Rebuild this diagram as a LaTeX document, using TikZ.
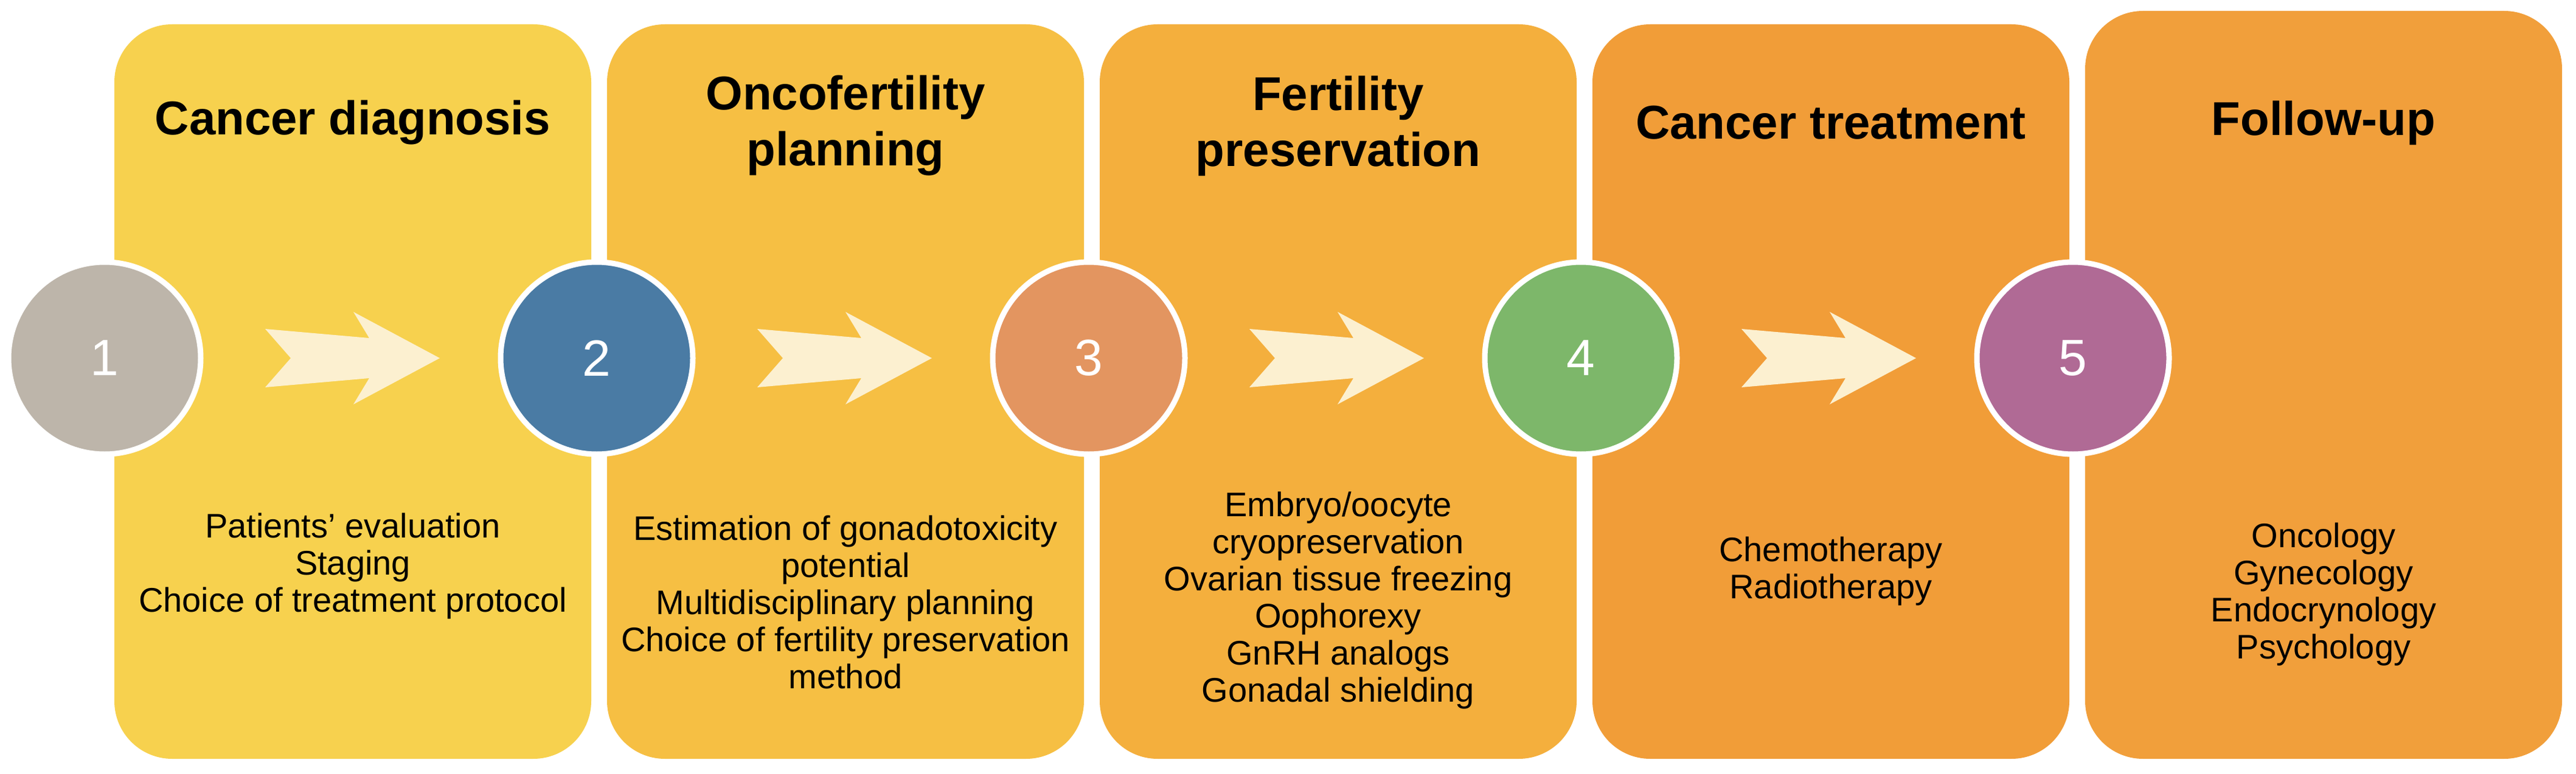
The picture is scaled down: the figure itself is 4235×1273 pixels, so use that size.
\documentclass[tikz,border=0pt]{standalone}
\usepackage{fontspec}
\setmainfont{Liberation Sans}
\begin{document}
\begin{tikzpicture}[x=1pt,y=-1pt,
  box/.style={rounded corners=95pt},
  ttl/.style={font=\fontsize{78}{92}\selectfont\bfseries,align=center,text=black},
  body/.style={font=\fontsize{56}{61}\selectfont,align=center,text=black},
  num/.style={circle,minimum size=316pt,draw=white,line width=9pt,text=white,font=\fontsize{84}{84}\selectfont}]
\definecolor{b1}{HTML}{F7D14E}\definecolor{b2}{HTML}{F6BF43}\definecolor{b3}{HTML}{F4AF3D}
\definecolor{b4}{HTML}{F19D38}\definecolor{b5}{HTML}{F19F3B}
\definecolor{c1}{HTML}{BDB5AA}\definecolor{c2}{HTML}{4A7BA4}\definecolor{c3}{HTML}{E39560}
\definecolor{c4}{HTML}{7DB76A}\definecolor{c5}{HTML}{B06A95}\definecolor{arrowc}{HTML}{FCF0D0}
\useasboundingbox (0,0) rectangle (4235,1273);
\fill[white] (0,0) rectangle (4235,1273);
\fill[b1,box] (188,40) rectangle (972,1248);
\fill[b2,box] (998,40) rectangle (1782,1248);
\fill[b3,box] (1808,40) rectangle (2592,1248);
\fill[b4,box] (2618,40) rectangle (3402,1248);
\fill[b5,box] (3428,18) rectangle (4212,1248);
\foreach \cx in {172,981,1790,2599}{
  \fill[arrowc] (\cx+264,541) -- (\cx+435,556) -- (\cx+409,513) -- (\cx+551,589) -- (\cx+409,665) -- (\cx+435,622) -- (\cx+264,637) -- (\cx+306,589) -- cycle;
}
\node[num,fill=c1] (n1) at (172,589) {1};
\node[num,fill=c2] (n2) at (981,589) {2};
\node[num,fill=c3] (n3) at (1790,589) {3};
\node[num,fill=c4] (n4) at (2599,589) {4};
\node[num,fill=c5] (n5) at (3408,589) {5};
\node[ttl] (t1) at (580,202) {Cancer diagnosis};
\node[ttl] (t2) at (1390,207) {Oncofertility\\planning};
\node[ttl] (t3) at (2200,207) {Fertility\\preservation};
\node[ttl] (t4) at (3010,202) {Cancer treatment};
\node[ttl] (t5) at (3820,202) {Follow-up};
\node[body] (d1) at (580,931) {Patients' evaluation\\Staging\\Choice of treatment protocol};
\node[body] (d2) at (1390,990) {Estimation of gonadotoxicity\\potential\\Multidisciplinary planning\\Choice of fertility preservation\\method};
\node[body] (d3) at (2200,988) {Embryo/oocyte\\cryopreservation\\Ovarian tissue freezing\\Oophorexy\\GnRH analogs\\Gonadal shielding};
\node[body] (d4) at (3010,940) {Chemotherapy\\Radiotherapy};
\node[body] (d5) at (3820,978) {Oncology\\Gynecology\\Endocrynology\\Psychology};
\end{tikzpicture}
\end{document}
